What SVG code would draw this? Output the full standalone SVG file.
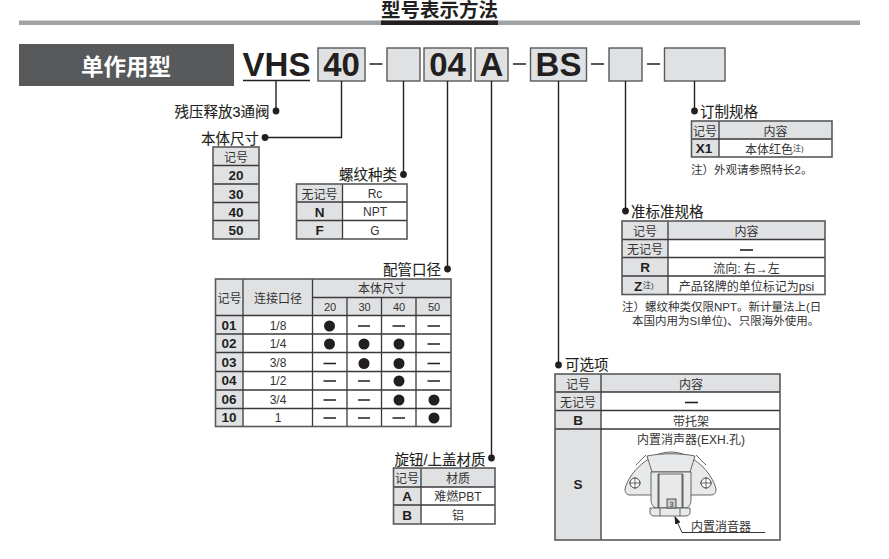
<svg xmlns="http://www.w3.org/2000/svg" width="889" height="559" viewBox="0 0 889 559">
<defs><marker id="ah" markerWidth="8" markerHeight="6" refX="7" refY="3" orient="auto-start-reverse" markerUnits="userSpaceOnUse"><path d="M0 0L8 3L0 6Z" fill="#231f20"/></marker></defs>
<style>
text{font-family:"Liberation Sans","Noto Sans CJK SC",sans-serif;fill:#231f20;text-anchor:middle}
.h{font-size:12px;fill:#333}
.b{font-size:13.5px;font-weight:bold}
.c{font-size:12px;fill:#333}
.l{font-size:14.5px;stroke:#231f20;stroke-width:.12}
.n{font-size:11.5px;text-anchor:start;fill:#333}
.code{font-size:33px;font-weight:bold}
.g{fill:#e0e1e3}
.t{fill:none;stroke:#3a3a3c;stroke-width:1.3}
.o{fill:none;stroke:#58595b;stroke-width:1.6}
.cn{fill:none;stroke:#231f20;stroke-width:1.4}
.k{fill:#e0e1e3;stroke:#58595b;stroke-width:1.4}
.dash{stroke:#231f20;stroke-width:1.6}
.d{fill:#231f20}
.m{fill:none;stroke:#444;stroke-width:.8}
.s{fill:#e8e9ea;stroke:#444;stroke-width:.8}
</style>
<rect width="889" height="559" fill="#fff"/>
<g id="title">
<rect x="19" y="20.500" width="841" height="4.500" fill="#a1a2a4"/>
<rect x="381" y="20.500" width="117" height="4.500" fill="#231f20"/>
<text x="439.500" y="17" style="font-size:19.500px;font-weight:bold">型号表示方法</text>
</g>
<g id="badge">
<rect x="19" y="44" width="215" height="42" fill="#58595b"/>
<text x="126" y="74.500" style="font-size:22.500px;font-weight:bold;fill:#fff">单作用型</text>
</g>
<g id="code">
<text x="276.500" y="76" class="code">VHS</text>
<line x1="243" y1="80.500" x2="310" y2="80.500" stroke="#231f20" stroke-width="1.300"/>
<rect class="k" x="318" y="48" width="47" height="33"/><text x="341.500" y="76" class="code">40</text>
<rect class="k" x="387" y="48" width="33" height="33"/>
<rect class="k" x="424" y="48" width="47" height="33"/><text x="447.500" y="76" class="code">04</text>
<rect class="k" x="475" y="48" width="33" height="33"/><text x="491.500" y="76" class="code">A</text>
<rect class="k" x="530.500" y="48" width="56" height="33"/><text x="558.500" y="76" class="code">BS</text>
<rect class="k" x="609" y="48" width="33" height="33"/>
<rect class="k" x="664.500" y="48" width="60.500" height="33"/>
<path class="dash" d="M369.500 64h13M513 64h13M591 64h13M647 64h13"/>
</g>
<g id="connectors">
<path class="cn" d="M276 81V111"/><circle class="d" cx="276" cy="111" r="3.400"/>
<path class="cn" d="M341.500 81V137.500H265"/><circle class="d" cx="265" cy="137.500" r="3.400"/>
<path class="cn" d="M403.500 81V174.500"/><circle class="d" cx="403.500" cy="174.500" r="3.400"/>
<path class="cn" d="M447.500 81V269"/><circle class="d" cx="447.500" cy="269" r="3.400"/>
<path class="cn" d="M491.500 81V458"/><circle class="d" cx="491.500" cy="458" r="3.400"/>
<path class="cn" d="M558.500 81V365"/><circle class="d" cx="558.500" cy="365" r="3.400"/>
<path class="cn" d="M625.500 81V211"/><circle class="d" cx="625.500" cy="211" r="3.400"/>
<path class="cn" d="M694.500 81V111"/><circle class="d" cx="694.500" cy="111" r="3.400"/>
</g>
<g id="residual"><text x="222" y="117" class="l">残压释放3通阀</text></g>
<g id="bodysize">
<text x="230" y="144" class="l">本体尺寸</text>
<rect class="g" x="213" y="147" width="46" height="92"/>
<path class="t" d="M213 165.500H259M213 184H259M213 202.500H259M213 220.500H259"/>
<rect class="o" x="213" y="147" width="46" height="92"/>
<text x="236" y="162" class="h">记号</text>
<text x="236" y="180" class="b">20</text><text x="236" y="198.500" class="b">30</text><text x="236" y="217" class="b">40</text><text x="236" y="235" class="b">50</text>
</g>
<g id="thread">
<text x="368" y="180" class="l">螺纹种类</text>
<rect class="g" x="296.500" y="184" width="46" height="55"/>
<path class="t" d="M296.500 202H407M296.500 220.500H407M342.500 184V239"/>
<rect class="o" x="296.500" y="184" width="110.500" height="55"/>
<text x="319.500" y="199" class="h">无记号</text><text x="375" y="198" class="c">Rc</text>
<text x="319.500" y="217" class="b">N</text><text x="375" y="216" class="c">NPT</text>
<text x="319.500" y="235" class="b">F</text><text x="375" y="235" class="c">G</text>
</g>
<g id="port">
<text x="412" y="275" class="l">配管口径</text>
<path class="g" d="M215.500 279H451V315.500H215.500Z"/>
<path class="g" d="M215.500 315.500H243V426.500H215.500Z"/>
<path class="t" d="M312.500 297.500H451M215.500 315.500H451M215.500 334H451M215.500 352.500H451M215.500 371.500H451M215.500 390H451M215.500 408.500H451M243 279V426.500M312.500 279V426.500M347 297.500V426.500M381.500 297.500V426.500M416 297.500V426.500"/>
<rect class="o" x="215.500" y="279" width="235.500" height="147.500"/>
<text x="229.500" y="303" class="h">记号</text><text x="278" y="303" class="h">连接口径</text><text x="382" y="293" class="h">本体尺寸</text>
<text x="330" y="311" class="c" style="font-size:11px">20</text><text x="364.500" y="311" class="c" style="font-size:11px">30</text><text x="399" y="311" class="c" style="font-size:11px">40</text><text x="434" y="311" class="c" style="font-size:11px">50</text>
<text x="229" y="330" class="b">01</text><text x="229" y="348" class="b">02</text><text x="229" y="367" class="b">03</text><text x="229" y="385" class="b">04</text><text x="229" y="404" class="b">06</text><text x="229" y="422" class="b">10</text>
<text x="278" y="330" class="c">1/8</text><text x="278" y="348" class="c">1/4</text><text x="278" y="367" class="c">3/8</text><text x="278" y="385" class="c">1/2</text><text x="278" y="404" class="c">3/4</text><text x="278" y="422" class="c">1</text>
<g class="d"><circle cx="329.500" cy="326" r="5.500"/><circle cx="329.500" cy="344" r="5.500"/><circle cx="364" cy="344" r="5.500"/><circle cx="399" cy="344" r="5.500"/><circle cx="364" cy="363.500" r="5.500"/><circle cx="399" cy="363.500" r="5.500"/><circle cx="399" cy="381" r="5.500"/><circle cx="399" cy="400" r="5.500"/><circle cx="434" cy="400" r="5.500"/><circle cx="434" cy="418" r="5.500"/></g>
<path class="dash" d="M358 326H370M392.500 326H405M427.500 326H440M427.500 344H440M323.500 363.500H336M427.500 363.500H440M323.500 381H336M358 381H370M427.500 381H440M323.500 400H336M358 400H370M323.500 418H336M358 418H370M392.500 418H405"/>
</g>
<g id="knob">
<text x="440" y="465" class="l">旋钮/上盖材质</text>
<path class="g" d="M393.500 468H495V487H421V524H393.500Z"/>
<path class="t" d="M393.500 487H495M393.500 505H495M421 468V524"/>
<rect class="o" x="393.500" y="468" width="101.500" height="56"/>
<text x="407" y="483" class="h">记号</text><text x="458" y="483" class="h">材质</text>
<text x="407" y="501" class="b">A</text><text x="458" y="501" class="c">难燃PBT</text>
<text x="407" y="520" class="b">B</text><text x="458" y="520" class="c">铝</text>
</g>
<g id="custom">
<text x="700" y="117" class="l" style="text-anchor:start">订制规格</text>
<path class="g" d="M691.500 121H832V139H719V157H691.500Z"/>
<path class="t" d="M691.500 139H832M719 121V157"/>
<rect class="o" x="691.500" y="121" width="140.500" height="36"/>
<text x="705" y="136" class="h">记号</text><text x="775.500" y="136" class="h">内容</text>
<text x="704" y="153" class="b">X1</text><text x="769" y="154" class="c">本体红色</text><text x="793" y="151" class="c" style="font-size:8px;text-anchor:start">注)</text>
<text x="691" y="174" class="n">注）外观请参照特长2。</text>
</g>
<g id="standard">
<text x="631" y="217" class="l" style="text-anchor:start">准标准规格</text>
<path class="g" d="M622 221H825V239.500H668V294.500H622Z"/>
<path class="t" d="M622 239.500H825M622 257.500H825M622 276H825M668 221V294.500"/>
<rect class="o" x="622" y="221" width="203" height="73.500"/>
<text x="645" y="236" class="h">记号</text><text x="746.500" y="236" class="h">内容</text>
<text x="645" y="254" class="h">无记号</text><path class="dash" d="M740 250H753"/>
<text x="645" y="272" class="b">R</text><text x="746.500" y="273" class="c">流向: 右→左</text>
<text x="638" y="291" class="b">Z</text><text x="643" y="288" class="c" style="font-size:8px;text-anchor:start">注)</text>
<text x="746.500" y="291" class="c">产品铭牌的单位标记为psi</text>
<text x="622" y="311" class="n">注）螺纹种类仅限NPT。新计量法上(日</text>
<text x="632" y="325" class="n">本国内用为SI单位)、只限海外使用。</text>
</g>
<g id="options">
<text x="565" y="370" class="l" style="text-anchor:start">可选项</text>
<path class="g" d="M555 374H780V392H601V540H555Z"/>
<path class="t" d="M555 392H780M555 410.500H780M555 429H780M601 374V540"/>
<rect class="o" x="555" y="374" width="225" height="166"/>
<text x="578" y="389" class="h">记号</text><text x="691" y="389" class="h">内容</text>
<text x="578" y="407" class="h">无记号</text><path class="dash" d="M685 402.500H698"/>
<text x="578" y="425" class="b">B</text><text x="691" y="426" class="c">带托架</text>
<text x="578" y="489" class="b">S</text>
<text x="691" y="444" class="c">内置消声器(EXH.孔)</text>
<path class="s" d="M625 489C629 472 650 452 671 452C692 452 712 472 716 489C716 493 714 495 711 495H630C627 495 625 493 625 489Z"/>
<path class="s" d="M647 456L652 472H690L695 456C680 453 662 453 647 456Z"/>
<path class="m" d="M646 455L636 465M696 455L706 465"/>
<path class="s" d="M651 472H691V500C691 505 688 508 685 508H657C654 508 651 505 651 500Z"/>
<path d="M658.500 474V508M682.500 474V508" stroke="#666" stroke-width="2" fill="none"/>
<path class="m" d="M658 474H683"/>
<path class="s" d="M650 508H690V512C690 515 688 516 685 516H655C652 516 650 515 650 512Z"/>
<path class="m" d="M660 508V516M680 508V516"/>
<circle cx="635" cy="483" r="5" fill="#fff" stroke="#333" stroke-width=".9"/><circle cx="706" cy="483" r="5" fill="#fff" stroke="#333" stroke-width=".9"/>
<path class="m" d="M629 483H641M635 477V489M700 483H712M706 477V489"/>
<rect x="667" y="499" width="9" height="9" fill="#ccc" stroke="#333" stroke-width=".8"/>
<text x="671.500" y="507" class="c" style="font-size:7px">3</text>
<path d="M675 517L682 532.500H765" fill="none" stroke="#231f20" stroke-width=".9" marker-start="url(#ah)"/>
<text x="721" y="531" class="c">内置消音器</text>
</g>
</svg>
